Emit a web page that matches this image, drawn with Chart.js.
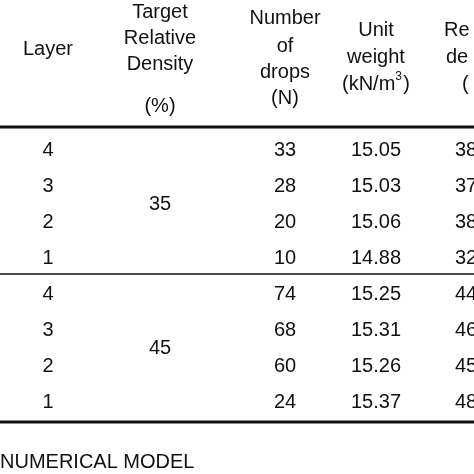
<!DOCTYPE html>
<html><head><meta charset="utf-8">
<script src="https://cdn.jsdelivr.net/npm/chart.js@4"></script>
<style>html,body{margin:0;padding:0;background:#fff}</style>
</head><body>
<canvas id="c" width="474" height="474"></canvas>
<script>
const layers = ["4","3","2","1","4","3","2","1"];
const targetDensity = ["35","45"];
const drops = ["33","28","20","10","74","68","60","24"];
const unitWeights = ["15.05","15.03","15.06","14.88","15.25","15.31","15.26","15.37"];
const relDensity = ["38.5","37.8","38.9","32.4","44.6","46.8","45.2","48.7"];
const footer = "NUMERICAL MODEL";

const rowY = [150,186,222,258,294,330,366,402];
const colX = [48,160,285,376,455];
const F = '20px "Liberation Sans", Arial, sans-serif';

const tablePlugin = {
  id:'table',
  afterDraw(chart){
    const ctx = chart.ctx, xs = chart.scales.x, ys = chart.scales.y;
    const X = v => xs.getPixelForValue(v), Y = v => ys.getPixelForValue(v);
    ctx.save();
    ctx.fillStyle = '#111'; ctx.strokeStyle = '#111';
    ctx.font = F;
    ctx.textBaseline = 'middle';
    const t = (s,x,y,al) => { ctx.textAlign = al||'center'; ctx.fillText(s,X(x),Y(y)); };
    t("Layer",colX[0],49);
    t("Target",colX[1],12); t("Relative",colX[1],38); t("Density",colX[1],64); t("(%)",colX[1],106);
    t("Number",colX[2],18); t("of",colX[2],46); t("drops",colX[2],72); t("(N)",colX[2],98);
    t("Unit",colX[3],30); t("weight",colX[3],57);
    ctx.textAlign='left';
    const wa = ctx.measureText("(kN/m").width, w3 = 8, wb = ctx.measureText(")").width;
    const x0 = X(colX[3]) - (wa+w3+wb)/2;
    ctx.fillText("(kN/m", x0, Y(84));
    ctx.font = '12px "Liberation Sans", Arial, sans-serif';
    ctx.fillText("3", x0+wa, Y(77));
    ctx.font = F;
    ctx.fillText(")", x0+wa+w3, Y(84));
    t("Re",444,30,'left'); t("de",446,57,'left'); t("(",462,84,'left');
    for (let i=0;i<layers.length;i++){
      t(layers[i],colX[0],rowY[i]);
      t(drops[i],colX[2],rowY[i]);
      t(unitWeights[i],colX[3],rowY[i]);
      t(relDensity[i],colX[4],rowY[i],'left');
    }
    t(targetDensity[0],colX[1],(rowY[1]+rowY[2])/2);
    t(targetDensity[1],colX[1],(rowY[5]+rowY[6])/2);
    t(footer,0,462,'left');
    const line=(y,w)=>{ctx.lineWidth=w;ctx.beginPath();ctx.moveTo(X(0),Y(y));ctx.lineTo(X(474),Y(y));ctx.stroke();};
    line(127,3); line(274,1.5); line(422,3);
    ctx.restore();
  }
};

new Chart(document.getElementById('c'),{
  type:'scatter',
  data:{datasets:[]},
  options:{
    responsive:false, animation:false, devicePixelRatio:1,
    layout:{padding:0},
    plugins:{legend:{display:false},tooltip:{enabled:false}},
    scales:{
      x:{type:'linear',min:0,max:474,display:false},
      y:{type:'linear',min:0,max:474,reverse:true,display:false}
    }
  },
  plugins:[tablePlugin]
});
</script>
</body></html>
